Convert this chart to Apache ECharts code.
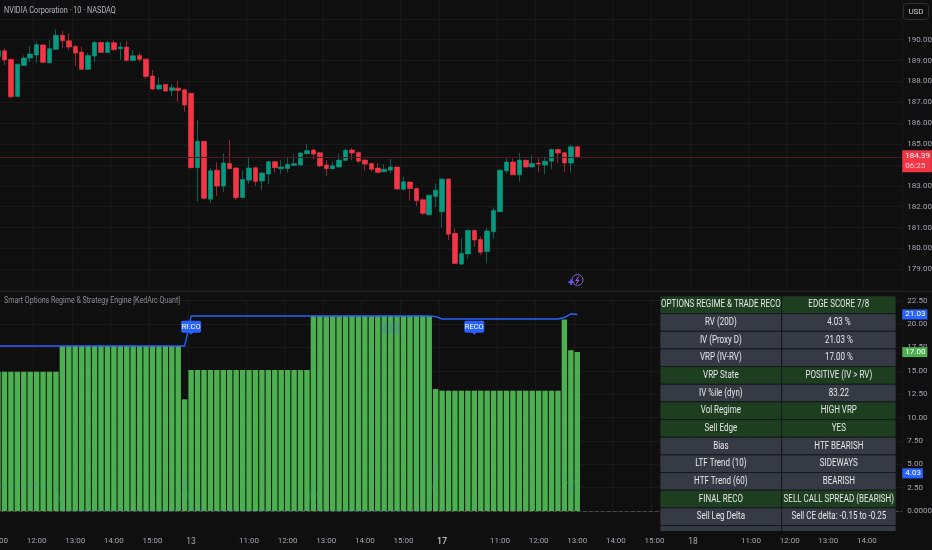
<!DOCTYPE html>
<html><head><meta charset="utf-8">
<style>html,body{margin:0;padding:0;background:#0f0f0f}#c{width:932px;height:550px}</style>
<script src="https://cdn.jsdelivr.net/npm/echarts@6/dist/echarts.min.js"></script>
</head><body><div id="c"></div>
<script>
const opens=[189.19,189.47,189.06,187.28,188.77,189.12,189.27,189.75,188.90,189.54,190.21,189.95,189.67,189.41,188.58,189.22,189.87,189.39,189.86,189.57,189.65,189.01,189.25,189.07,188.26,187.64,187.86,187.57,187.68,187.60,187.43,183.87,185.13,182.36,183.75,182.99,184.07,183.85,182.44,183.27,183.87,183.23,183.56,184.15,183.82,183.83,183.98,184.00,184.54,184.71,184.58,183.99,183.82,183.90,184.22,184.71,184.60,184.23,184.07,183.85,183.67,183.75,183.90,182.83,183.18,182.87,182.33,181.61,182.49,181.76,183.32,180.72,179.25,179.73,180.86,180.43,179.85,180.80,181.76,183.72,184.14,183.53,184.22,183.90,184.09,183.99,184.18,184.74,184.58,184.09,184.87];
const closes=[189.47,189.03,187.27,188.83,189.12,189.31,189.76,188.92,189.57,190.21,189.95,189.65,189.36,188.58,189.25,189.87,189.39,189.87,189.52,189.65,189.01,189.23,189.06,188.24,187.64,187.83,187.54,187.70,187.57,186.87,183.87,185.13,182.40,183.72,182.99,184.09,183.82,182.43,183.30,183.85,183.21,183.61,184.15,183.87,183.90,184.03,184.06,184.57,184.68,184.52,183.95,183.82,183.96,184.23,184.70,184.57,184.18,184.04,183.79,183.64,183.79,183.90,182.84,183.19,182.87,182.28,181.68,182.55,182.79,183.32,180.68,179.28,179.76,180.86,180.40,179.81,180.83,181.82,183.75,184.14,183.53,184.23,183.90,184.07,184.04,184.18,184.74,184.57,184.09,184.87,184.39];
const lows=[189.10,188.79,187.19,187.27,188.74,188.93,188.90,188.87,188.87,189.51,189.59,189.51,188.74,188.55,188.55,188.92,189.38,189.38,189.47,189.03,188.95,188.98,188.95,188.12,187.59,187.59,187.51,187.30,187.03,186.55,183.83,182.24,182.35,182.19,182.51,182.71,183.79,182.32,182.40,183.08,182.99,182.79,183.08,183.63,183.56,183.64,183.95,183.96,184.50,184.27,183.91,183.47,183.79,183.87,184.18,184.23,184.06,183.72,183.67,183.59,183.64,183.59,182.83,182.79,182.28,182.03,181.60,181.58,181.99,181.00,180.40,179.25,179.20,179.52,180.08,179.68,179.28,180.46,181.74,183.59,183.51,183.19,183.87,183.87,183.67,183.56,183.79,184.10,183.67,183.63,184.34];
const highs=[189.50,189.59,189.06,188.83,189.25,189.70,189.92,189.79,189.99,190.50,190.43,190.30,189.75,189.67,189.38,189.94,189.90,189.95,189.97,189.86,189.95,189.51,189.38,189.11,188.55,188.20,187.88,187.88,188.02,187.65,187.46,186.15,185.13,183.83,184.12,184.55,185.19,183.91,183.75,184.39,183.91,183.67,184.20,184.20,184.23,184.39,184.50,184.63,185.00,184.79,184.63,184.23,184.15,184.55,184.79,184.81,184.63,184.27,184.10,184.10,184.03,184.28,183.91,183.43,183.19,182.91,182.40,182.55,183.11,183.35,183.35,180.96,180.48,180.91,180.91,180.56,181.00,181.96,183.79,184.36,184.30,184.58,184.27,184.47,184.36,184.39,184.79,184.78,184.63,184.95,184.92];

const edgeBars=[14.9,14.9,14.9,14.9,14.9,14.9,14.9,14.9,14.9,14.9,
17.65,17.65,17.65,17.65,17.65,17.65,17.65,17.65,17.65,17.65,17.65,17.65,17.65,17.65,17.65,17.65,17.65,17.65,17.65,
11.95,
15.08,15.08,15.08,15.08,15.08,15.08,15.08,15.08,15.08,15.08,15.08,15.08,15.08,15.08,15.08,15.08,15.08,15.08,15.08,
20.86,20.86,20.86,20.86,20.86,20.86,20.86,20.86,20.86,20.86,20.86,20.86,20.86,20.86,20.86,20.86,20.86,20.86,20.86,
13.05,
12.87,12.87,12.87,12.87,12.87,12.87,12.87,12.87,12.87,12.87,12.87,12.87,12.87,12.87,12.87,12.87,12.87,12.87,12.87,
20.5,17.2,17.0];
const ivLine=[17.65,17.65,17.65,17.65,17.65,17.65,17.65,17.65,17.65,17.65,17.65,17.65,17.65,17.65,17.65,17.65,17.65,17.65,17.65,17.65,17.65,17.65,17.65,17.65,17.65,17.65,17.65,17.65,17.65,17.65,
20.86,20.86,20.86,20.86,20.86,20.86,20.86,20.86,20.86,20.86,20.86,20.86,20.86,20.86,20.86,20.86,20.86,20.86,20.86,20.86,20.86,20.86,20.86,20.86,20.86,20.86,20.86,20.86,20.86,20.86,20.86,20.86,20.86,20.86,20.86,20.86,20.86,20.86,20.8,
20.54,20.54,20.54,20.54,20.54,20.54,20.54,20.54,20.54,20.54,20.54,20.54,20.54,20.54,20.54,20.54,20.54,20.54,20.54,
20.7,21.1,21.03];
const rvLine=[2.8,2.8,2.8,2.8,2.8,2.8,2.8,2.8,2.8,2.8,
0.1,0.1,0.1,0.1,0.1,0.1,0.1,0.1,0.1,0.1,0.1,0.1,0.1,0.1,0.1,0.1,0.1,0.1,0.1,
3.2,
0.1,0.1,0.1,0.1,0.1,0.1,0.1,0.1,0.1,0.1,0.1,0.1,0.1,0.1,0.1,0.1,0.1,0.1,0.1,
3.2,
0.1,0.1,0.1,0.1,0.1,0.1,0.1,0.1,0.1,0.1,0.1,0.1,0.1,0.1,0.1,0.1,0.1,0.1,
5.0,
null,null,null,null,null,null,null,null,null,null,null,null,null,null,null,null,null,null,null,
4.0,2.0,4.03];

const tickSlots=[0,6,12,18,24,30,39,45,51,57,63,69,78,84,90,96,102,108,117,123,129,135];
const tickLabels=['11:00','12:00','13:00','14:00','15:00','13','11:00','12:00','13:00','14:00','15:00','17','11:00','12:00','13:00','14:00','15:00','18','11:00','12:00','13:00','14:00'];
const slotCount=141;
const lastPrice=184.39, countdown='06:25', ivNow=21.03, rvNow=4.03, vrpNow=17.00;
const recoSlots=[30,74], recoLevel=19.6, ghostSlots=[61];

const tableLeft=['OPTIONS REGIME & TRADE RECO','RV (20D)','IV (Proxy D)','VRP (IV-RV)','VRP State','IV %ile (dyn)','Vol Regime','Sell Edge','Bias','LTF Trend (10)','HTF Trend (60)','FINAL RECO','Sell Leg Delta',''];
const tableRight=['EDGE SCORE 7/8','4.03 %','21.03 %','17.00 %','POSITIVE (IV > RV)','83.22','HIGH VRP','YES','HTF BEARISH','SIDEWAYS','BEARISH','SELL CALL SPREAD (BEARISH)','Sell CE delta: -0.15 to -0.25',''];
const tableGreen=[1,0,0,0,1,0,1,1,0,0,0,1,0,0];

const categories=Array.from({length:slotCount},(_,i)=>{const k=tickSlots.indexOf(i);return k>=0?tickLabels[k]:''});
const candles=opens.map((o,i)=>[o,closes[i],lows[i],highs[i]]);
const cells=[];tableLeft.forEach((t,r)=>{cells.push([0,r]);cells.push([1,r]);});

const bg='#0f0f0f',gridC='#191919',txt='#a3a6ad',uiFont='Roboto,sans-serif';
const colSplit=121.7/236, tickOn=(i,v)=>v!=='';
const tag=(bgc,h)=>({show:true,position:'end',distance:0,color:'#fff',fontFamily:uiFont,fontSize:8,backgroundColor:bgc,padding:h,lineHeight:9});
const hiddenLine={width:1,color:'rgba(0,0,0,0)'};
const xBase=(g,showLab)=>({type:'category',gridIndex:g,data:categories,boundaryGap:true,
  axisLine:{show:false},axisTick:{show:false},
  splitLine:{show:true,interval:tickOn,lineStyle:{color:gridC,width:1}},
  axisLabel:{show:showLab,interval:tickOn,margin:26,color:txt,fontSize:8,fontFamily:uiFont,hideOverlap:false,
    formatter:v=>v==='17'?'{h|'+v+'}':(v.length<3?'{d|'+v+'}':v),
    rich:{d:{color:'#a3a6ad',fontSize:8.5,fontFamily:uiFont},h:{color:'#e4e5e8',fontSize:9,fontFamily:uiFont}}}});

const chart=echarts.init(document.getElementById('c'),null,{renderer:'canvas'});
chart.setOption({
 backgroundColor:bg,animation:false,
 grid:[
  {left:-5.2,width:907.5,top:-2,height:292.1,outerBoundsMode:'none'},
  {left:-5.2,width:907.5,top:300.7,height:210.3,outerBoundsMode:'none'},
  {left:660,width:236,top:296,height:235,z:5,outerBoundsMode:'none'}
 ],
 xAxis:[xBase(0,false),xBase(1,true),
  {type:'value',gridIndex:2,min:0,max:1,show:false,splitLine:{show:false}}],
 yAxis:[
  {type:'value',gridIndex:0,position:'right',min:178,max:192,interval:1,scale:true,axisLine:{show:false},axisTick:{show:false},
   splitLine:{lineStyle:{color:gridC}},
   axisLabel:{margin:5,color:txt,fontSize:8,fontFamily:uiFont,formatter:v=>(v>=179&&v<=190&&v!==184)?v.toFixed(2):''}},
  {type:'value',gridIndex:1,position:'right',min:0,max:22.5,interval:2.5,axisLine:{show:false},axisTick:{show:false},
   splitLine:{lineStyle:{color:gridC}},
   axisLabel:{margin:5,color:txt,fontSize:8,fontFamily:uiFont,formatter:v=>v===0?'0.0000':v.toFixed(2)}},
  {type:'value',gridIndex:2,inverse:true,min:0,max:13.31,show:false,splitLine:{show:false}}
 ],
 series:[
  {name:'Price',type:'candlestick',xAxisIndex:0,yAxisIndex:0,data:candles,barWidth:5,z:3,
   itemStyle:{color:'#089981',color0:'#f23645',borderColor:'rgba(8,153,129,.6)',borderColor0:'rgba(242,54,69,.6)',borderWidth:1},
   markLine:{silent:true,symbol:'none',animation:false,
    lineStyle:{color:'#4a1c22',type:'solid',width:1},
    label:{show:true,position:'end',distance:0,offset:[0,4.5],formatter:'{a|'+lastPrice.toFixed(2)+'}\n{b|'+countdown+'}',
      backgroundColor:'#f23645',padding:[1,2,1,3],
      rich:{a:{color:'#fff',fontSize:8,lineHeight:10,fontFamily:uiFont},b:{color:'#ffd0d4',fontSize:8,lineHeight:10,fontFamily:uiFont}}},
    data:[{yAxis:lastPrice}]}},
  {name:'Edge',type:'bar',xAxisIndex:1,yAxisIndex:1,data:edgeBars,barWidth:5.4,z:2,itemStyle:{color:'#4caf50'},
   markLine:{silent:true,symbol:'none',animation:false,data:[
    {yAxis:0,lineStyle:{color:'#4a4a4a',type:'dashed',width:1},label:{show:false}},
    {yAxis:vrpNow,lineStyle:hiddenLine,label:Object.assign(tag('#4caf50',[1,2,0,3]),{formatter:vrpNow.toFixed(2)})}
   ]}},
  {name:'RV',type:'line',xAxisIndex:1,yAxisIndex:1,data:rvLine,symbol:'none',z:3,connectNulls:false,
   lineStyle:{color:'#2aa0a8',width:1,opacity:.35},
   markLine:{silent:true,symbol:'none',animation:false,data:[
    {yAxis:rvNow,lineStyle:hiddenLine,label:Object.assign(tag('#2962ff',[1,2,0,3]),{formatter:rvNow.toFixed(2)})}]}},
  {name:'RECO',type:'scatter',xAxisIndex:1,yAxisIndex:1,z:3,
   data:recoSlots.map(s=>[s,recoLevel]),symbol:'path://M2 0H18Q20 0 20 2V10Q20 12 18 12H12L10 14L8 12H2Q0 12 0 10V2Q0 0 2 0Z',symbolSize:[20,14],
   itemStyle:{color:'#2962ff',opacity:1},
   label:{show:true,position:'inside',offset:[0,-1],formatter:'RECO',color:'#fff',fontSize:7.5,fontFamily:uiFont}},
  {name:'RECO hidden',type:'scatter',xAxisIndex:1,yAxisIndex:1,z:3,
   data:ghostSlots.map(s=>[s,recoLevel]),symbol:'roundRect',symbolSize:[20,12],itemStyle:{color:'#2962ff',opacity:.14}},
  {name:'IV',type:'line',xAxisIndex:1,yAxisIndex:1,data:ivLine,symbol:'none',z:4,lineStyle:{color:'#2962ff',width:1.4},
   markLine:{silent:true,symbol:'none',animation:false,data:[
    {yAxis:ivNow,lineStyle:hiddenLine,label:Object.assign(tag('#2962ff',[1,2,0,3]),{formatter:ivNow.toFixed(2)})}]}},
  {name:'Table',type:'custom',xAxisIndex:2,yAxisIndex:2,z:10,clip:true,silent:true,data:cells,encode:{x:0,y:1},
   renderItem(p,api){
    const col=api.value(0),row=api.value(1);
    const a=api.coord([col===0?0:colSplit,row]),b=api.coord([col===0?colSplit:1,row+1]);
    const text=col===0?tableLeft[row]:tableRight[row];
    return {type:'group',children:[
     {type:'rect',shape:{x:a[0],y:a[1],width:b[0]-a[0],height:b[1]-a[1]},
      style:{fill:tableGreen[row]?'#1d3f20':'#363a45',stroke:'#16181c',lineWidth:1}},
     {type:'text',x:(a[0]+b[0])/2,y:(a[1]+b[1])/2,scaleX:.8,style:{text,align:'center',verticalAlign:'middle',fill:'#e6e8ea',fontSize:10,fontFamily:'Roboto,sans-serif'}}
    ]};
   }}
 ],
 graphic:[
  {type:'rect',silent:true,shape:{x:0,y:291,width:932,height:1},style:{fill:'#222'},z:1},
  {type:'text',x:4,y:11,scaleX:.77,style:{text:'NVIDIA Corporation · 10 · NASDAQ',verticalAlign:'middle',fill:'#b4b7bd',fontSize:9.5,fontFamily:uiFont},z:21},
  {type:'text',x:4,y:301,scaleX:.83,style:{text:'Smart Options Regime & Strategy Engine [KedArc Quant]',verticalAlign:'middle',fill:'#8b8d92',fontSize:8.5,fontFamily:uiFont},z:21},
  {type:'rect',shape:{x:903.5,y:3.5,width:25,height:16,r:3},style:{fill:bg,stroke:'#2e2e2e',lineWidth:1},z:20},
  {type:'text',style:{x:916,y:11.5,text:'USD',align:'center',verticalAlign:'middle',fill:'#c9ccd2',fontSize:8,fontFamily:uiFont},z:21},
  {type:'circle',shape:{cx:577.5,cy:280,r:5.5},style:{fill:'transparent',stroke:'#8a5bd6',lineWidth:1},z:20},
  {type:'polyline',shape:{points:[[578.8,276.5],[575.8,280.5],[579,280],[576.3,283.8]]},style:{fill:'none',stroke:'#a06fe8',lineWidth:1},z:20},
  {type:'polyline',shape:{points:[[571,279.5],[571,285]]},style:{stroke:'#5f5cff',lineWidth:1.6},z:21},
  {type:'polyline',shape:{points:[[568.3,282.2],[573.7,282.2]]},style:{stroke:'#5f5cff',lineWidth:1.6},z:21}
 ]
});
</script></body></html>
